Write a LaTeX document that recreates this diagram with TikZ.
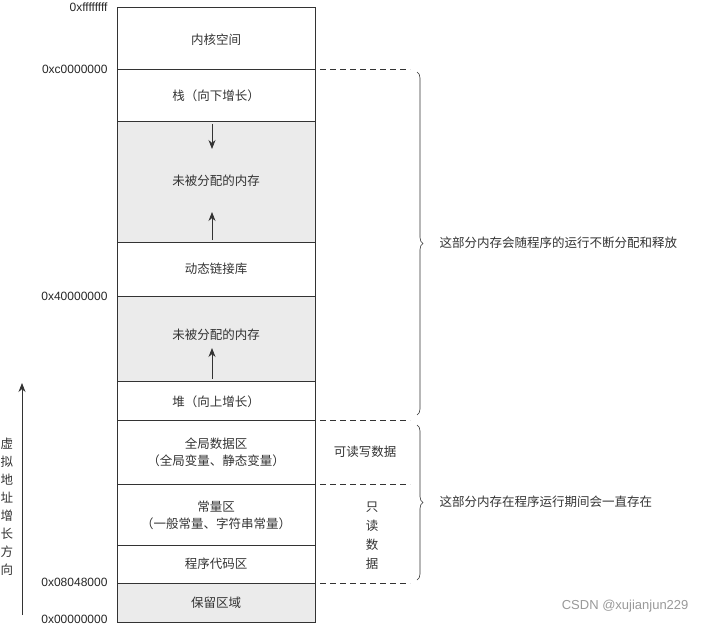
\documentclass[tikz,border=0pt]{standalone}
\usepackage{fontspec}
\setmainfont{Noto Sans CJK SC}
\newfontfamily\lat{Liberation Sans}
\usetikzlibrary{decorations.pathreplacing,arrows.meta}
\begin{document}
\begin{tikzpicture}[x=1pt,y=-1pt,
  seg/.style={draw=black!80,line width=0.7pt},
  gray/.style={seg,fill=black!8},
  txt/.style={font=\fontsize{12.5}{17}\selectfont,text=black!80,align=center},
  addr/.style={font=\lat\fontsize{12}{13}\selectfont,text=black!85,anchor=east},
  dsh/.style={draw=black!80,dashed,dash pattern=on 6pt off 4pt,line width=0.6pt},
  brc/.style={draw=black!80,line width=0.6pt,decorate,decoration={brace,amplitude=6pt}},
  arr/.style={draw=black!80,line width=0.8pt,-{Stealth[length=9pt,width=7pt]}}]
\useasboundingbox (0,0) rectangle (705,626);
\draw[seg] (117,7) rectangle (315,69);
\draw[seg] (117,69) rectangle (315,121);
\draw[gray] (117,121) rectangle (315,242);
\draw[seg] (117,242) rectangle (315,296);
\draw[gray] (117,296) rectangle (315,381);
\draw[seg] (117,381) rectangle (315,420);
\draw[seg] (117,420) rectangle (315,484);
\draw[seg] (117,484) rectangle (315,545);
\draw[seg] (117,545) rectangle (315,583);
\draw[gray] (117,583) rectangle (315,622);
\node[txt] (k) at (216,40) {内核空间};
\node[txt] (s) at (216,96) {栈（向下增长）};
\node[txt] (u1) at (216,181) {未被分配的内存};
\node[txt] (d) at (216,269) {动态链接库};
\node[txt] (u2) at (216,335) {未被分配的内存};
\node[txt] (h) at (216,402) {堆（向上增长）};
\node[txt] (g) at (216,452) {全局数据区\\（全局变量、静态变量）};
\node[txt] (c) at (216,515) {常量区\\（一般常量、字符串常量）};
\node[txt] (p) at (216,564) {程序代码区};
\node[txt] (r) at (216,603) {保留区域};
\coordinate (a1s) at (212,124); \coordinate (a1e) at (212,149);
\coordinate (a2s) at (212,240); \coordinate (a2e) at (212,212);
\coordinate (a3s) at (212,379); \coordinate (a3e) at (212,348);
\draw[arr] (a1s)--(a1e);
\draw[arr] (a2s)--(a2e);
\draw[arr] (a3s)--(a3e);
\node[addr] at (111,7) {0xffffffff};
\node[addr] at (111,69) {0xc0000000};
\node[addr] at (111,296) {0x40000000};
\node[addr] at (111,582) {0x08048000};
\node[addr] at (111,619) {0x00000000};
\foreach \y in {69,420,484,583} \draw[dsh] (320,\y)--(410,\y);
\node[txt] (rw) at (365,452) {可读写数据};
\node[txt,font=\fontsize{12.5}{19}\selectfont] (ro) at (372,536) {只\\读\\数\\据};
\draw[brc] (417,72)--(417,415);
\draw[brc] (417,425)--(417,580);
\node[txt,anchor=west] (t1) at (436,243) {这部分内存会随程序的运行不断分配和释放};
\node[txt,anchor=west] (t2) at (436,502) {这部分内存在程序运行期间会一直存在};
\coordinate (vs) at (22,615); \coordinate (ve) at (22,383);
\draw[arr] (vs)--(ve);
\node[txt,text width=14pt,font=\fontsize{12.5}{18}\selectfont] (v) at (7,507) {虚\\拟\\地\\址\\增\\长\\方\\向};
\node[font=\lat\fontsize{13}{15}\selectfont,text=black!40,anchor=east] (wm) at (692,606) {CSDN @xujianjun229};
\end{tikzpicture}
\end{document}
